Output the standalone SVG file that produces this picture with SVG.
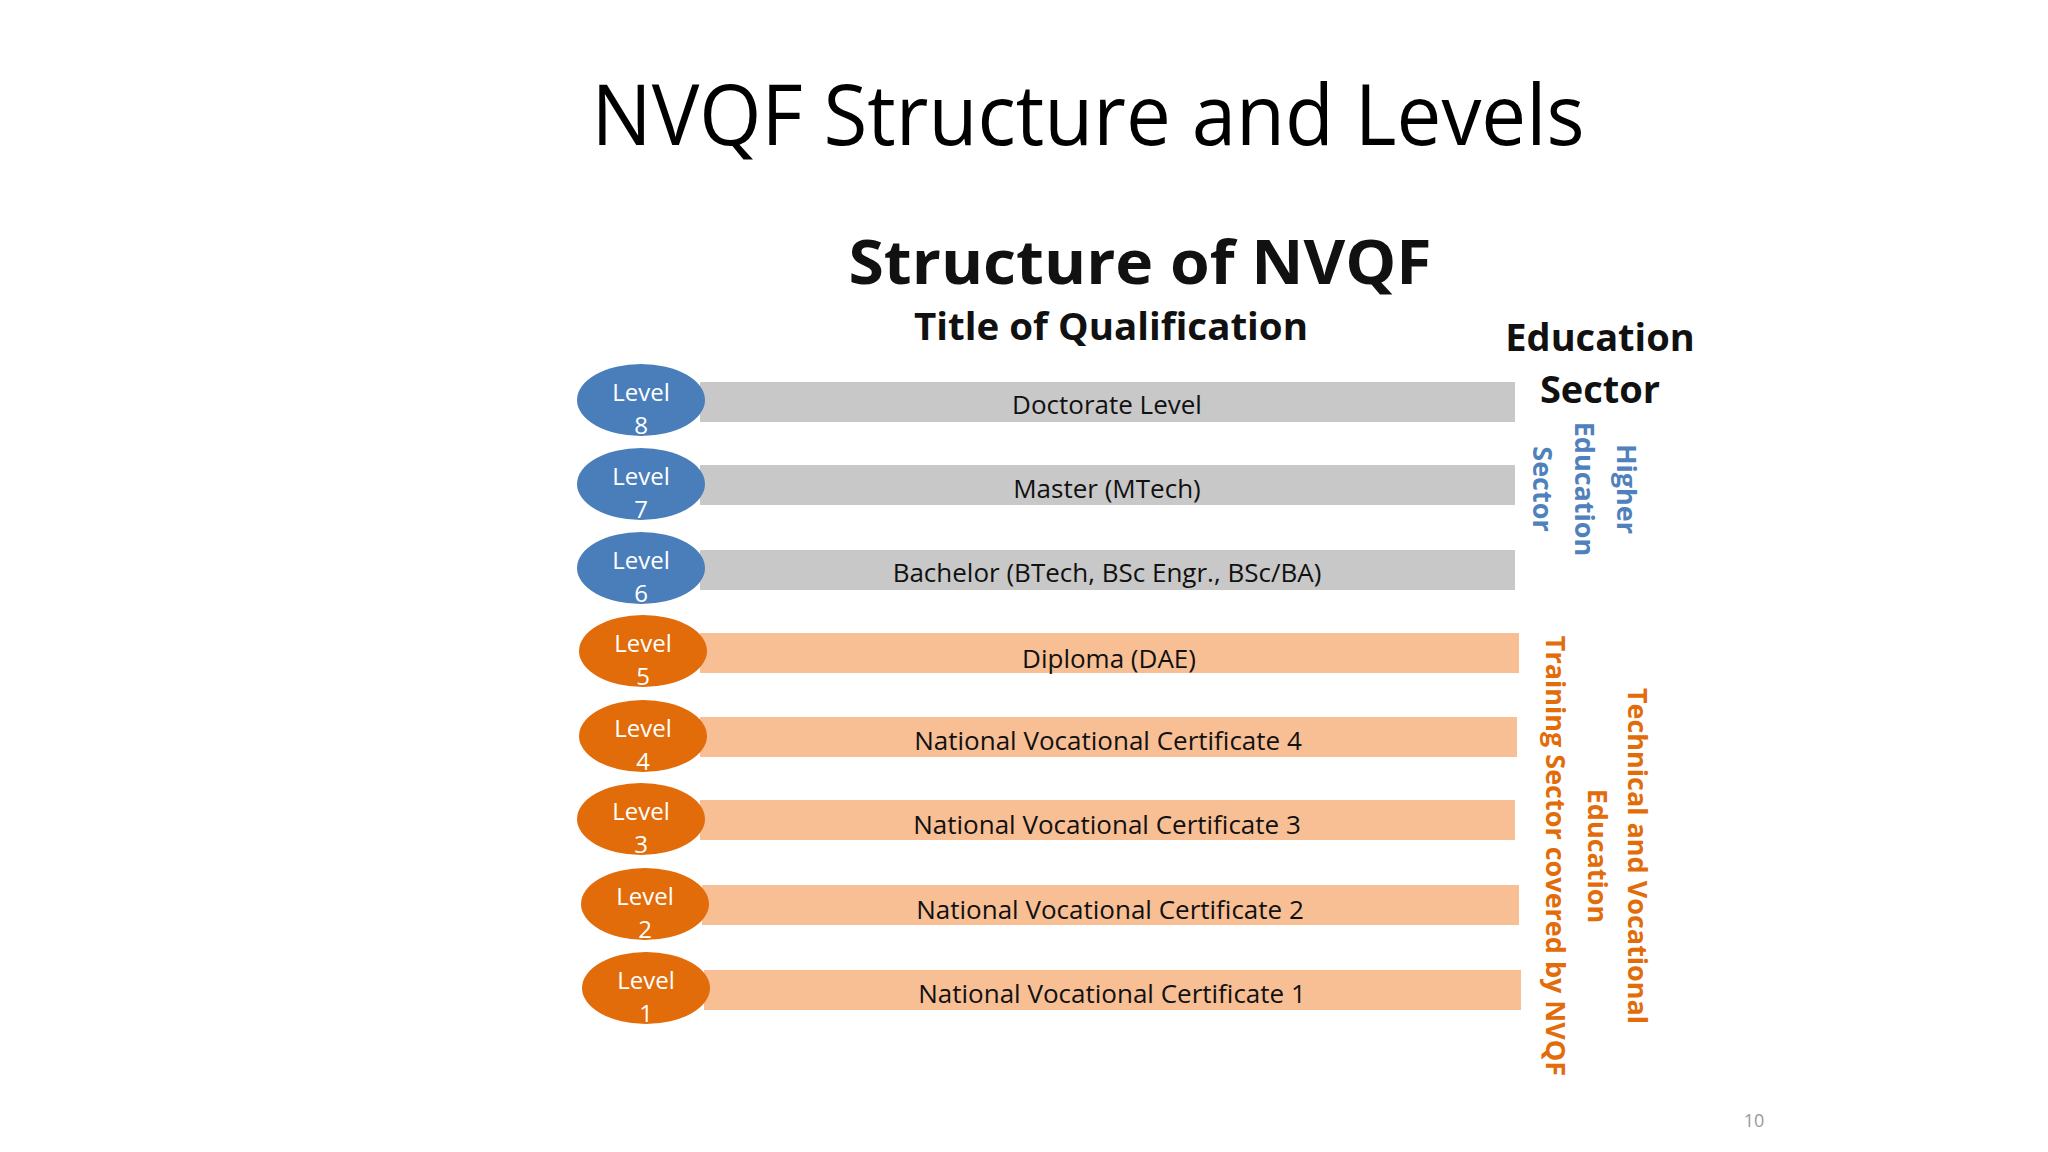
<svg xmlns="http://www.w3.org/2000/svg" width="2048" height="1152" viewBox="0 0 2048 1152">
<style>
text{font-family:"Open Sans","Liberation Sans",sans-serif}
.b{fill:#4a7ebb}.o{fill:#e36c0a}
.gb{fill:#c8c8c8}.ob{fill:#f8bf95}
.lv{fill:#fff;font-size:24px;text-anchor:middle}
.bt{fill:#111;font-size:26px;text-anchor:middle;dominant-baseline:central}
.vb{fill:#4f81bd;font-size:27px;font-weight:bold;text-anchor:middle;dominant-baseline:central}
.vo{fill:#e36c0a;font-size:27px;font-weight:bold;text-anchor:middle;dominant-baseline:central}
.h{font-weight:bold;fill:#111;text-anchor:middle}
</style>
<rect width="2048" height="1152" fill="#fff"/>
<text x="1088" y="145" font-size="84" fill="#000" text-anchor="middle" textLength="993" lengthAdjust="spacingAndGlyphs">NVQF Structure and Levels</text>
<text class="h" x="1140" y="284" font-size="60" textLength="583" lengthAdjust="spacingAndGlyphs">Structure of NVQF</text>
<text class="h" x="1111" y="340" font-size="38" textLength="394" lengthAdjust="spacingAndGlyphs">Title of Qualification</text>
<text class="h" x="1600" y="351" font-size="38">Education</text>
<text class="h" x="1600" y="403" font-size="38">Sector</text>
<g id="row8"><rect class="gb" x="700" y="382" width="815" height="40"/><ellipse class="b" cx="641" cy="400" rx="64" ry="36"/><text class="lv" x="641" y="401">Level</text><text class="lv" x="641" y="434">8</text><text class="bt" x="1107" y="404">Doctorate Level</text></g>
<g id="row7"><rect class="gb" x="700" y="465" width="815" height="40"/><ellipse class="b" cx="641" cy="484" rx="64" ry="36"/><text class="lv" x="641" y="485">Level</text><text class="lv" x="641" y="518">7</text><text class="bt" x="1107" y="488">Master (MTech)</text></g>
<g id="row6"><rect class="gb" x="700" y="550" width="815" height="40"/><ellipse class="b" cx="641" cy="568" rx="64" ry="36"/><text class="lv" x="641" y="569">Level</text><text class="lv" x="641" y="602">6</text><text class="bt" x="1107" y="572">Bachelor (BTech, BSc Engr., BSc/BA)</text></g>
<g id="row5"><rect class="ob" x="700" y="633" width="819" height="40"/><ellipse class="o" cx="643" cy="651" rx="64" ry="36"/><text class="lv" x="643" y="652">Level</text><text class="lv" x="643" y="685">5</text><text class="bt" x="1109" y="658" font-size="29">Diploma (DAE)</text></g>
<g id="row4"><rect class="ob" x="700" y="717" width="817" height="40"/><ellipse class="o" cx="643" cy="736" rx="64" ry="36"/><text class="lv" x="643" y="737">Level</text><text class="lv" x="643" y="770">4</text><text class="bt" x="1108" y="740">National Vocational Certificate 4</text></g>
<g id="row3"><rect class="ob" x="700" y="800" width="815" height="40"/><ellipse class="o" cx="641" cy="819" rx="64" ry="36"/><text class="lv" x="641" y="820">Level</text><text class="lv" x="641" y="853">3</text><text class="bt" x="1107" y="824">National Vocational Certificate 3</text></g>
<g id="row2"><rect class="ob" x="702" y="885" width="817" height="40"/><ellipse class="o" cx="645" cy="904" rx="64" ry="36"/><text class="lv" x="645" y="905">Level</text><text class="lv" x="645" y="938">2</text><text class="bt" x="1110" y="909">National Vocational Certificate 2</text></g>
<g id="row1"><rect class="ob" x="704" y="970" width="817" height="40"/><ellipse class="o" cx="646" cy="988" rx="64" ry="36"/><text class="lv" x="646" y="989">Level</text><text class="lv" x="646" y="1022">1</text><text class="bt" x="1112" y="993">National Vocational Certificate 1</text></g>
<g id="higher">
<text class="vb" transform="rotate(90 1627 489)" x="1627" y="489">Higher</text>
<text class="vb" transform="rotate(90 1585 489)" x="1585" y="489">Education</text>
<text class="vb" transform="rotate(90 1543 489)" x="1543" y="489">Sector</text>
</g>
<g id="tvet">
<text class="vo" transform="rotate(90 1638 856)" x="1638" y="856">Technical and Vocational</text>
<text class="vo" transform="rotate(90 1598 856)" x="1598" y="856">Education</text>
<text class="vo" transform="rotate(90 1556 856)" x="1556" y="856">Training Sector covered by NVQF</text>
</g>
<text x="1754" y="1127" font-size="18" fill="#999" text-anchor="middle">10</text>
<g id="connectors"/>
</svg>
